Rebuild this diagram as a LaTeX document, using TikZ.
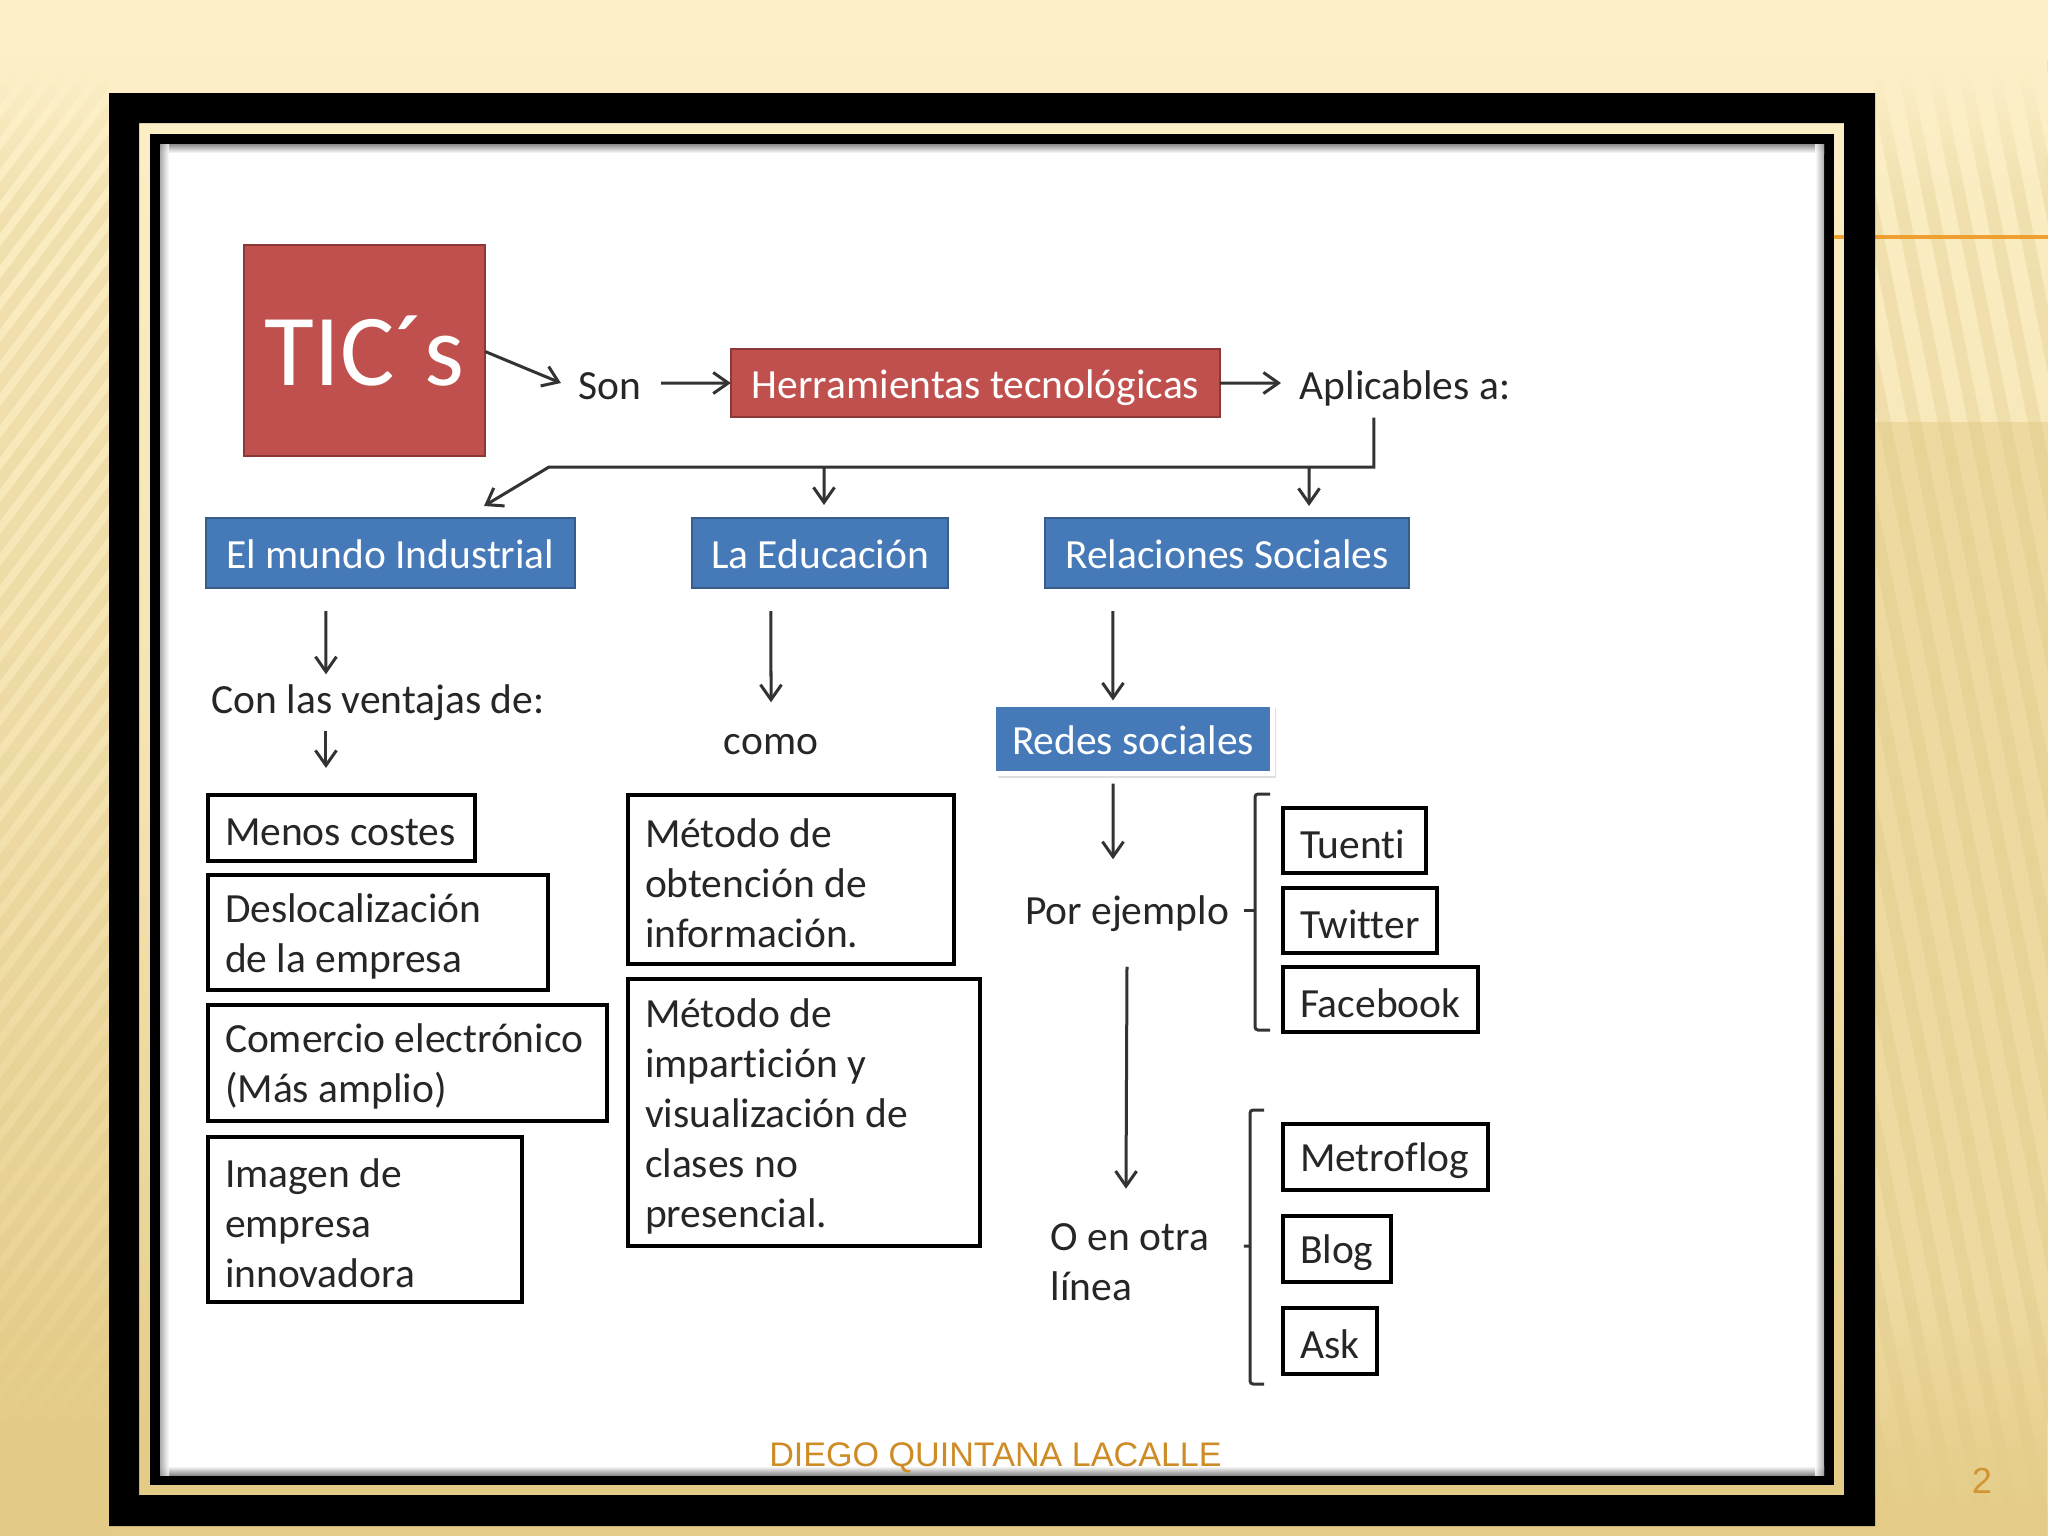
\documentclass[tikz,border=0pt]{standalone}
\usepackage{fontspec}
\setmainfont[Ligatures=NoCommon]{Carlito}
\newfontfamily\piefont{Liberation Sans}
\usetikzlibrary{arrows.meta,fadings,shadows}
\definecolor{crema}{HTML}{FDF0C8}
\definecolor{arena}{HTML}{E4CB86}
\definecolor{tira}{HTML}{DCC685}
\definecolor{rojo}{HTML}{C0504D}
\definecolor{rojoborde}{HTML}{8C3836}
\definecolor{azul}{HTML}{4679B8}
\definecolor{azulborde}{HTML}{385D8A}
\definecolor{linea}{HTML}{333333}
\definecolor{naranja}{HTML}{F0A030}
\definecolor{ocre}{HTML}{CE8C26}
\tikzset{
	texto/.style={inner sep=0,text=black!85,text height=0.31cm,text depth=0.02cm,font=\fontsize{11.8}{14.2}\selectfont},
	caja/.style 2 args={draw=black,line width=0.04cm,fill=white,anchor=north west,inner xsep=0.17cm,inner ysep=0,outer sep=0,align=flush left,text=black!85,
		minimum height=#2cm,text width=#1cm-0.34cm,execute at begin node={\rule{0pt}{0.36cm}},font=\fontsize{11.8}{14.2}\selectfont},
	bloque/.style={inner sep=0,outer sep=0,text=white,text height=0.33cm,text depth=0.02cm,font=\fontsize{11.8}{14.2}\selectfont},
	rojocaja/.style={bloque,fill=rojo,draw=rojoborde,line width=0.025cm},
	azulcaja/.style={bloque,fill=azul,draw=azulborde,line width=0.025cm},
	flecha/.style={arrows={-Straight Barb[length=0.15cm,width=0.21cm]},draw=linea,line width=0.03cm},
	trazo/.style={draw=linea,line width=0.03cm}
}
\begin{document}
\begin{tikzpicture}[x=0.01cm,y=-0.01cm]
	\useasboundingbox (0,0) rectangle (2048,1536);
	\shade[top color=crema,bottom color=arena,middle color=crema!65!arena] (0,0) rectangle (2048,1536);
	\fill[arena!60!crema] (1875,422) rectangle (2048,1536);
	\begin{scope}
		\clip (0,0) rectangle (109,1536);
		\foreach \s in {0,24,...,1400}
			\draw[tira,line width=0.11cm,opacity=0.3] (\s,0) -- (\s-1152,1536);
	\end{scope}
	\begin{scope}
		\clip (1875,0) rectangle (2048,1536);
		\foreach \s in {1500,1530,...,2100}
			\draw[tira,line width=0.13cm,opacity=0.3] (\s,0) -- (\s+307,1536);
	\end{scope}
	\fill[crema] (0,0) rectangle (2048,60);
	\fill[crema,path fading=south] (0,60) rectangle (2048,200);
	\fill[arena,path fading=north] (0,1300) rectangle (2048,1536);
	\draw[naranja,line width=0.04cm] (1800,236.5) -- (2048,236.5);
	\fill[black,even odd rule] (109,93) rectangle (1875,1526) (139,123) rectangle (1844,1495);
	\fill[black] (150,133.5) rectangle (1834,1485);
	\fill[white] (160,144) rectangle (1824,1475);
	\shade[top color=black!45,bottom color=white] (160,144) rectangle (1824,153);
	\shade[bottom color=black!45,top color=white] (160,1466) rectangle (1824,1475);
	\shade[left color=black!40,right color=white,opacity=0.8] (160,144) rectangle (169,1475);
	\shade[right color=black!40,left color=white,opacity=0.8] (1815,144) rectangle (1824,1475);

	\node (tics) at (364.5,350.5) [rojocaja,minimum width=2.41cm,minimum height=2.11cm,text height=0.7cm,text depth=0.01cm,font=\fontsize{29}{30}\selectfont] {TIC´s};
	\node (son) at (610,385) [texto] {Son};
	\node (herramientas) at (975.5,383) [rojocaja,minimum width=4.89cm,minimum height=0.68cm] {Herramientas tecnológicas};
	\node (aplicables) at (1405,385) [texto] {Aplicables a:};
	\node (mundo) at (390.5,553) [azulcaja,minimum width=3.69cm,minimum height=0.70cm] {El mundo Industrial};
	\node (educacion) at (820,553) [azulcaja,minimum width=2.56cm,minimum height=0.70cm] {La Educación};
	\node (relaciones) at (1227,553) [azulcaja,minimum width=3.64cm,minimum height=0.70cm] {Relaciones Sociales};
	\node (ventajas) at (378,699) [texto] {Con las ventajas de:};
	\node (como) at (771,740) [texto] {como};
	\node (redes) at (1133,739) [bloque,fill=azul,draw=white,line width=0.05cm,minimum width=2.78cm,minimum height=0.69cm,
		drop shadow={shadow xshift=0.04cm,shadow yshift=-0.04cm,fill=black!25,opacity=0.5}] {Redes sociales};

	\node (menos) at (208,795) [caja={2.67}{0.66}] {Menos costes};
	\node (deslocal) at (208,875) [caja={3.40}{1.15}] {Deslocalización\\de la empresa};
	\node (comercio) at (208,1005) [caja={3.99}{1.16}] {Comercio electrónico\\(Más amplio)};
	\node (imagen) at (208,1137) [caja={3.14}{1.65}] {Imagen de\\empresa\\innovadora};
	\node (obtencion) at (628,795) [caja={3.26}{1.69}] {Método de\\obtención de\\información.};
	\node (imparticion) at (628,979) [caja={3.52}{2.67}] {Método de\\impartición y\\visualización de\\clases no\\presencial.};

	\node (porejemplo) at (1127,910) [texto] {Por ejemplo};
	\node (otralinea) at (1134,1262) [inner sep=0,text=black!85,align=flush left,text width=1.66cm,font=\fontsize{11.8}{14.2}\selectfont] {O en otra\\línea};
	\node (tuenti) at (1283,808) [caja={1.43}{0.65}] {Tuenti};
	\node (twitter) at (1283,888) [caja={1.54}{0.65}] {Twitter};
	\node (facebook) at (1283,967) [caja={1.95}{0.65}] {Facebook};
	\node (metroflog) at (1283,1124) [caja={2.05}{0.66}] {Metroflog};
	\node (blog) at (1283,1216) [caja={1.08}{0.66}] {Blog};
	\node (ask) at (1283,1308) [caja={0.94}{0.66}] {Ask};

	\coordinate (codoizq) at (549,467);
	\coordinate (ramaedu) at (824,467);
	\coordinate (ramarel) at (1309,467);
	\coordinate (llaveuno) at (1255,910);
	\coordinate (llavedos) at (1250,1246);

	\draw[flecha] ([yshift=-0.01cm]tics.east) -- ([xshift=-0.17cm,yshift=0.02cm]son.west);
	\draw[flecha] ([xshift=0.19cm,yshift=0.02cm]son.east) -- (herramientas.west);
	\draw[flecha] (herramientas.east) -- ([xshift=-0.18cm,yshift=0.02cm]aplicables.west);
	\draw[flecha] ([xshift=-0.31cm,yshift=-0.155cm]aplicables.south) |- (codoizq) -- ([xshift=0.935cm,yshift=0.12cm]mundo.north);
	\draw[flecha] (ramaedu) -- ([xshift=0.04cm,yshift=0.13cm]educacion.north);
	\draw[flecha] (ramarel) -- ([xshift=0.82cm,yshift=0.12cm]relaciones.north);
	\draw[flecha] ([xshift=-0.645cm,yshift=-0.23cm]mundo.south) -- ([xshift=-0.52cm,yshift=0.075cm]ventajas.north);
	\draw[flecha] ([xshift=-0.52cm,yshift=-0.145cm]ventajas.south) -- ([xshift=-0.52cm,yshift=0.27cm]ventajas.south |- menos.north);
	\draw[flecha] ([xshift=-0.49cm,yshift=-0.23cm]educacion.south) -- ([yshift=0.205cm]como.north);
	\draw[flecha] ([xshift=-1.14cm,yshift=-0.23cm]relaciones.south) -- ([xshift=-0.2cm,yshift=0.04cm]redes.north);
	\draw[flecha] ([xshift=-0.2cm,yshift=-0.10cm]redes.south) -- ([xshift=-0.14cm,yshift=0.335cm]porejemplo.north);
	\draw[flecha] ([yshift=-0.395cm]porejemplo.south) -- ([xshift=-0.08cm,yshift=0.34cm]otralinea.north);
	\draw[trazo] ([xshift=0.14cm]porejemplo.east) -- (llaveuno);
	\draw[trazo] ([xshift=0.26cm,yshift=0.16cm]otralinea.east) -- (llavedos);
	\draw[trazo,rounded corners=0.03cm] (1270,794) -- (1255,794) -- (1255,1030) -- (1270,1030);
	\draw[trazo,rounded corners=0.03cm] (1264,1110) -- (1250,1110) -- (1250,1384) -- (1264,1384);

	\node (autor) at (995.5,1458) [text=ocre,font={\piefont\fontsize{9.7}{12}\selectfont}] {DIEGO QUINTANA LACALLE};
	\node (pagina) at (1982,1481) [text=ocre!85!arena,font={\piefont\fontsize{10.3}{12}\selectfont}] {2};
\end{tikzpicture}
\end{document}
